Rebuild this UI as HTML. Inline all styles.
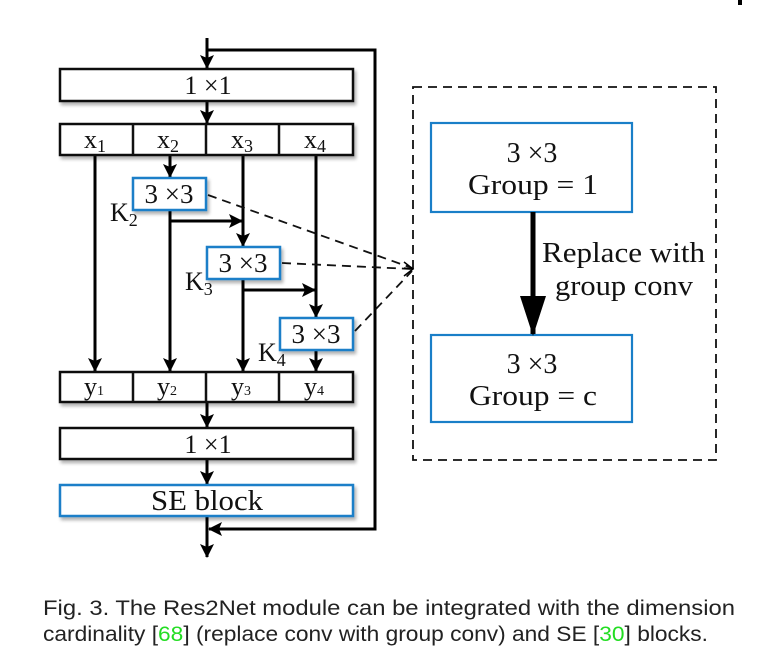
<!DOCTYPE html>
<html><head><meta charset="utf-8"><style>
html,body{margin:0;padding:0;background:#fff;}
svg{display:block;}
.t{font-family:"Liberation Serif",serif;fill:#111;}
.c{font-family:"Liberation Sans",sans-serif;font-size:21px;fill:#222;}
</style></head><body>
<svg width="763" height="653" viewBox="0 0 763 653" xmlns="http://www.w3.org/2000/svg">
<defs>
<marker id="a" markerWidth="14" markerHeight="14" refX="13" refY="7" orient="auto" markerUnits="userSpaceOnUse">
<path d="M0,0 L14,7 L0,14 L3,7 Z" fill="#000"/></marker>
<marker id="b" markerWidth="40" markerHeight="26" refX="38" refY="13" orient="auto" markerUnits="userSpaceOnUse">
<path d="M0,0 L40,13 L0,26 Z" fill="#000"/></marker>
<filter id="s" x="-5%" y="-20%" width="110%" height="150%"><feDropShadow dx="2" dy="3" stdDeviation="1.5" flood-color="#000" flood-opacity="0.3"/></filter>
</defs>
<rect x="738" y="0" width="4" height="5" fill="#000"/>
<g stroke="#000" stroke-width="3" fill="none">
<line x1="207" y1="38" x2="207" y2="68" marker-end="url(#a)"/>
<polyline points="207,50 375,50 375,529 209,529" marker-end="url(#a)"/>
<line x1="207" y1="101" x2="207" y2="123" marker-end="url(#a)"/>
<line x1="95" y1="155" x2="95" y2="371" marker-end="url(#a)"/>
<line x1="170" y1="155" x2="170" y2="177" marker-end="url(#a)"/>
<line x1="170" y1="210" x2="170" y2="371" marker-end="url(#a)"/>
<line x1="170" y1="221" x2="242" y2="221" marker-end="url(#a)"/>
<line x1="243" y1="155" x2="243" y2="246" marker-end="url(#a)"/>
<line x1="243" y1="279" x2="243" y2="371" marker-end="url(#a)"/>
<line x1="243" y1="290" x2="315" y2="290" marker-end="url(#a)"/>
<line x1="316" y1="155" x2="316" y2="317" marker-end="url(#a)"/>
<line x1="316" y1="350" x2="316" y2="371" marker-end="url(#a)"/>
<line x1="207" y1="402" x2="207" y2="427" marker-end="url(#a)"/>
<line x1="207" y1="459" x2="207" y2="484" marker-end="url(#a)"/>
<line x1="207" y1="516" x2="207" y2="557" marker-end="url(#a)"/>
</g>
<g stroke="#111" stroke-width="2.5" fill="#fff" filter="url(#s)">
<rect x="60" y="69" width="293" height="32"/>
<rect x="60" y="124" width="293" height="31"/>
<rect x="60" y="372" width="293" height="30"/>
<rect x="60" y="428" width="293" height="31"/>
</g>
<g stroke="#111" stroke-width="2.5">
<line x1="133" y1="124" x2="133" y2="155"/><line x1="206" y1="124" x2="206" y2="155"/><line x1="279" y1="124" x2="279" y2="155"/>
<line x1="133" y1="372" x2="133" y2="402"/><line x1="206" y1="372" x2="206" y2="402"/><line x1="279" y1="372" x2="279" y2="402"/>
</g>
<g stroke="#1a7fc8" stroke-width="2.5" fill="#fff" filter="url(#s)">
<rect x="60" y="485" width="293" height="31"/>
<rect x="133" y="178" width="73" height="32"/>
<rect x="207" y="247" width="73" height="32"/>
<rect x="280" y="318" width="73" height="32"/>
</g>
<g stroke="#111" stroke-width="1.8" fill="none" stroke-dasharray="9,6">
<line x1="208" y1="195" x2="412" y2="268"/>
<line x1="282" y1="263" x2="412" y2="269"/>
<line x1="355" y1="331" x2="412" y2="271"/>
<rect x="413" y="87" width="303" height="373"/>
</g>
<path d="M404,262 L413,269 L404,276 M404,268 L413,269" stroke="#000" stroke-width="1.5" fill="none"/>
<g stroke="#1a7fc8" stroke-width="2.2" fill="#fff">
<rect x="431" y="123" width="201" height="89"/>
<rect x="431" y="335" width="201" height="87"/>
</g>
<line x1="533" y1="212" x2="533" y2="334" stroke="#000" stroke-width="5" marker-end="url(#b)"/>
<g class="t" font-size="28" text-anchor="middle">
<text x="208" y="94" font-size="26">1 ×1</text>
<text x="208" y="453" font-size="26">1 ×1</text>
<text x="207" y="510" textLength="112" lengthAdjust="spacingAndGlyphs">SE block</text>
<text x="169" y="203" font-size="27">3 ×3</text>
<text x="243" y="272" font-size="27">3 ×3</text>
<text x="316" y="343" font-size="27">3 ×3</text>
<text x="532" y="162">3 ×3</text>
<text x="533" y="194" textLength="130" lengthAdjust="spacingAndGlyphs">Group = 1</text>
<text x="532" y="373">3 ×3</text>
<text x="533" y="405" textLength="128" lengthAdjust="spacingAndGlyphs">Group = c</text>
</g>
<g class="t" font-size="26">
<text x="84" y="148">x<tspan font-size="18" dy="4">1</tspan></text>
<text x="157" y="148">x<tspan font-size="18" dy="4">2</tspan></text>
<text x="231" y="148">x<tspan font-size="18" dy="4">3</tspan></text>
<text x="304" y="148">x<tspan font-size="18" dy="4">4</tspan></text>
<text x="84" y="395">y<tspan font-size="14">1</tspan></text>
<text x="157" y="395">y<tspan font-size="14">2</tspan></text>
<text x="231" y="395">y<tspan font-size="14">3</tspan></text>
<text x="304" y="395">y<tspan font-size="14">4</tspan></text>
<text x="110" y="221">K<tspan font-size="18" dy="5">2</tspan></text>
<text x="185" y="290">K<tspan font-size="18" dy="5">3</tspan></text>
<text x="258" y="361">K<tspan font-size="18" dy="5">4</tspan></text>
<text x="542" y="262" font-size="28" textLength="163" lengthAdjust="spacingAndGlyphs">Replace with</text>
<text x="555" y="295" font-size="28" textLength="138" lengthAdjust="spacingAndGlyphs">group conv</text>
</g>
<text class="c" x="43" y="615" textLength="692" lengthAdjust="spacingAndGlyphs">Fig. 3. The Res2Net module can be integrated with the dimension</text>
<text class="c" x="43" y="641" textLength="665" lengthAdjust="spacingAndGlyphs">cardinality [<tspan fill="#22dd22">68</tspan>] (replace conv with group conv) and SE [<tspan fill="#22dd22">30</tspan>] blocks.</text>
</svg>
</body></html>
